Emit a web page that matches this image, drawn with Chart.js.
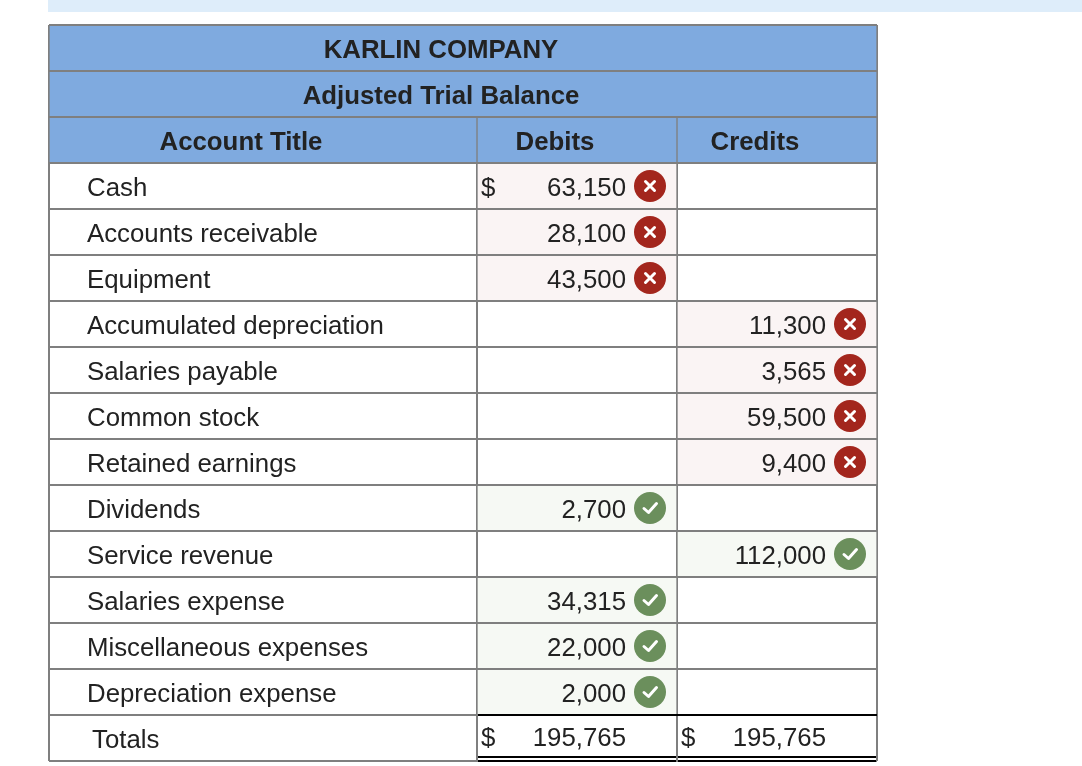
<!DOCTYPE html>
<html>
<head>
<meta charset="utf-8">
<style>
  html, body { margin: 0; background: #fff; }
  #band { position: absolute; left: 48px; top: 0; right: 0; height: 12px; background: #deedfa; }
  #wrap { position: absolute; left: 0; top: 0; width: 1082px; height: 766px; overflow: hidden; }
  canvas { display: block; position: relative; }
</style>
</head>
<body>
<div id="band"></div>
<div id="wrap"><canvas id="chart" width="1082" height="766"></canvas></div>
<script src="https://cdn.jsdelivr.net/npm/chart.js@4"></script>
<script>
const titleRows = ['KARLIN COMPANY', 'Adjusted Trial Balance'];
const columnTitles = ['Account Title', 'Debits', 'Credits'];
const accounts = ['Cash', 'Accounts receivable', 'Equipment', 'Accumulated depreciation',
  'Salaries payable', 'Common stock', 'Retained earnings', 'Dividends', 'Service revenue',
  'Salaries expense', 'Miscellaneous expenses', 'Depreciation expense', 'Totals'];
const debits = [63150, 28100, 43500, null, null, null, null, 2700, null, 34315, 22000, 2000, 195765];
const credits = [null, null, null, 11300, 3565, 59500, 9400, null, 112000, null, null, null, 195765];
const debitMarks = ['x', 'x', 'x', null, null, null, null, 'ok', null, 'ok', 'ok', 'ok', null];
const creditMarks = [null, null, null, 'x', 'x', 'x', 'x', null, 'ok', null, null, null, null];
const dollarRows = ['Cash', 'Totals'];

// layout and colours
const colEdges = [0, 428, 628, 828];
const GRAY = '#7f7f7f', BLUE = '#7faadf', PINK = '#faf4f4', GREEN = '#f6f9f4', INK = '#222';
const RED_MARK = '#a3261d', GREEN_MARK = '#6b8f5c';
const FONT = '"Liberation Sans", Arial, sans-serif';
const SIZE = 25.8;

const rowLabels = titleRows.concat(['columns'], accounts);

function markImage(kind) {
  const c = document.createElement('canvas');
  c.width = 32; c.height = 32;
  const g = c.getContext('2d');
  g.fillStyle = kind === 'x' ? RED_MARK : GREEN_MARK;
  g.beginPath(); g.arc(16, 16, 16, 0, Math.PI * 2); g.fill();
  g.strokeStyle = '#fff'; g.lineWidth = 3; g.lineCap = 'round'; g.lineJoin = 'round';
  g.beginPath();
  if (kind === 'x') {
    g.moveTo(11.5, 11.5); g.lineTo(20.5, 20.5);
    g.moveTo(20.5, 11.5); g.lineTo(11.5, 20.5);
  } else {
    g.moveTo(10, 16.5); g.lineTo(14.5, 20.5); g.lineTo(22.5, 11.5);
  }
  g.stroke();
  return c;
}
const markImages = { x: markImage('x'), ok: markImage('ok') };

// cells are inset so the vertical grid lines stay visible beside them
function cell(col) { return [colEdges[col] + 1, colEdges[col + 1] - 1]; }

function fillData(marks, kind, col) {
  return titleRows.concat(['columns']).map(() => null)
    .concat(marks.map(m => m === kind ? cell(col) : null));
}

function barSet(label, data, color) {
  return { label, data, backgroundColor: color, grouped: false, barPercentage: 1, categoryPercentage: 1 };
}

function markSet(label, marks, col, kind) {
  const data = [];
  marks.forEach((m, i) => { if (m === kind) data.push({ x: colEdges[col + 1] - 27, y: accounts[i] }); });
  return { type: 'scatter', label, data, pointStyle: markImages[kind], xAxisID: 'x', yAxisID: 'y' };
}

const fmt = v => v.toLocaleString('en-US');

const tableText = {
  id: 'tableText',
  afterDatasetsDraw(chart) {
    const { ctx, scales: { x, y } } = chart;
    const put = (text, px, py, align, weight) => {
      ctx.font = (weight || 'normal') + ' ' + SIZE + 'px ' + FONT;
      ctx.textAlign = align;
      ctx.textBaseline = 'middle';
      ctx.fillStyle = INK;
      ctx.fillText(text, px, py);
    };
    ctx.save();
    const centre = (a, b) => (x.getPixelForValue(a) + x.getPixelForValue(b)) / 2 - 22;
    titleRows.forEach(t => put(t, centre(colEdges[0], colEdges[3]), y.getPixelForValue(t) + 3, 'center', 'bold'));
    columnTitles.forEach((t, i) => put(t, centre(colEdges[i], colEdges[i + 1]), y.getPixelForValue('columns') + 3, 'center', 'bold'));
    accounts.forEach((name, i) => {
      const py = y.getPixelForValue(name);
      const isTotal = name === 'Totals';
      put(name, x.getPixelForValue(isTotal ? 43 : 38), py + 3, 'left');
      [debits, credits].forEach((vals, c) => {
        const edge = colEdges[c + 2];
        const shift = isTotal ? 1 : 3;
        if (vals[i] !== null) put(fmt(vals[i]), x.getPixelForValue(edge - 51), py + shift, 'right');
        if (vals[i] !== null && dollarRows.includes(name)) {
          put('$', x.getPixelForValue(colEdges[c + 1] + 4), py + shift, 'left');
        }
      });
    });
    ctx.restore();
  },
  afterDraw(chart) {
    // black rules over the totals cells
    const { ctx, scales: { x, y } } = chart;
    const half = (y.getPixelForValue(accounts[1]) - y.getPixelForValue(accounts[0])) / 2;
    const mid = y.getPixelForValue('Totals');
    const rule = (a, b, py, h) => {
      ctx.fillStyle = '#000';
      ctx.fillRect(x.getPixelForValue(a), py, x.getPixelForValue(b) - x.getPixelForValue(a), h);
    };
    ctx.save();
    rule(colEdges[1] + 1, colEdges[3], mid - half - 1, 2);
    [1, 2].forEach(c => {
      rule(colEdges[c] + 1, colEdges[c + 1] - 1, mid + half - 5, 2);
      rule(colEdges[c] + 1, colEdges[c + 1] - 1, mid + half - 1, 2);
    });
    ctx.restore();
  }
};

new Chart(document.getElementById('chart').getContext('2d'), {
  type: 'bar',
  data: {
    labels: rowLabels,
    datasets: [
      markSet('debit wrong marks', debitMarks, 1, 'x'),
      markSet('debit right marks', debitMarks, 1, 'ok'),
      markSet('credit wrong marks', creditMarks, 2, 'x'),
      markSet('credit right marks', creditMarks, 2, 'ok'),
      barSet('title rows', rowLabels.map(l => titleRows.includes(l) ? [colEdges[0] + 1, colEdges[3] - 1] : null), BLUE),
      barSet('title col 1', rowLabels.map(l => l === 'columns' ? cell(0) : null), BLUE),
      barSet('title col 2', rowLabels.map(l => l === 'columns' ? cell(1) : null), BLUE),
      barSet('title col 3', rowLabels.map(l => l === 'columns' ? cell(2) : null), BLUE),
      barSet('debit wrong', fillData(debitMarks, 'x', 1), PINK),
      barSet('debit right', fillData(debitMarks, 'ok', 1), GREEN),
      barSet('credit wrong', fillData(creditMarks, 'x', 2), PINK),
      barSet('credit right', fillData(creditMarks, 'ok', 2), GREEN)
    ]
  },
  options: {
    indexAxis: 'y',
    responsive: false,
    animation: false,
    devicePixelRatio: 1,
    layout: { autoPadding: false, padding: { left: 49, top: 25, right: 205, bottom: 5 } },
    plugins: { legend: { display: false }, tooltip: { enabled: false }, title: { display: false } },
    elements: { point: { radius: 16, hoverRadius: 16 } },
    scales: {
      x: {
        type: 'linear',
        min: colEdges[0],
        max: colEdges[3],
        afterBuildTicks(axis) { axis.ticks = colEdges.map(value => ({ value })); },
        afterFit(axis) { axis.height = 0; },
        ticks: { display: false },
        border: { display: false },
        grid: { color: GRAY, lineWidth: 2, drawTicks: false }
      },
      y: {
        type: 'category',
        afterFit(axis) { axis.width = 0; },
        ticks: { display: false },
        border: { display: false },
        grid: { color: GRAY, lineWidth: 2, drawTicks: false, z: 1 }
      }
    }
  },
  plugins: [tableText]
});
</script>
</body>
</html>
